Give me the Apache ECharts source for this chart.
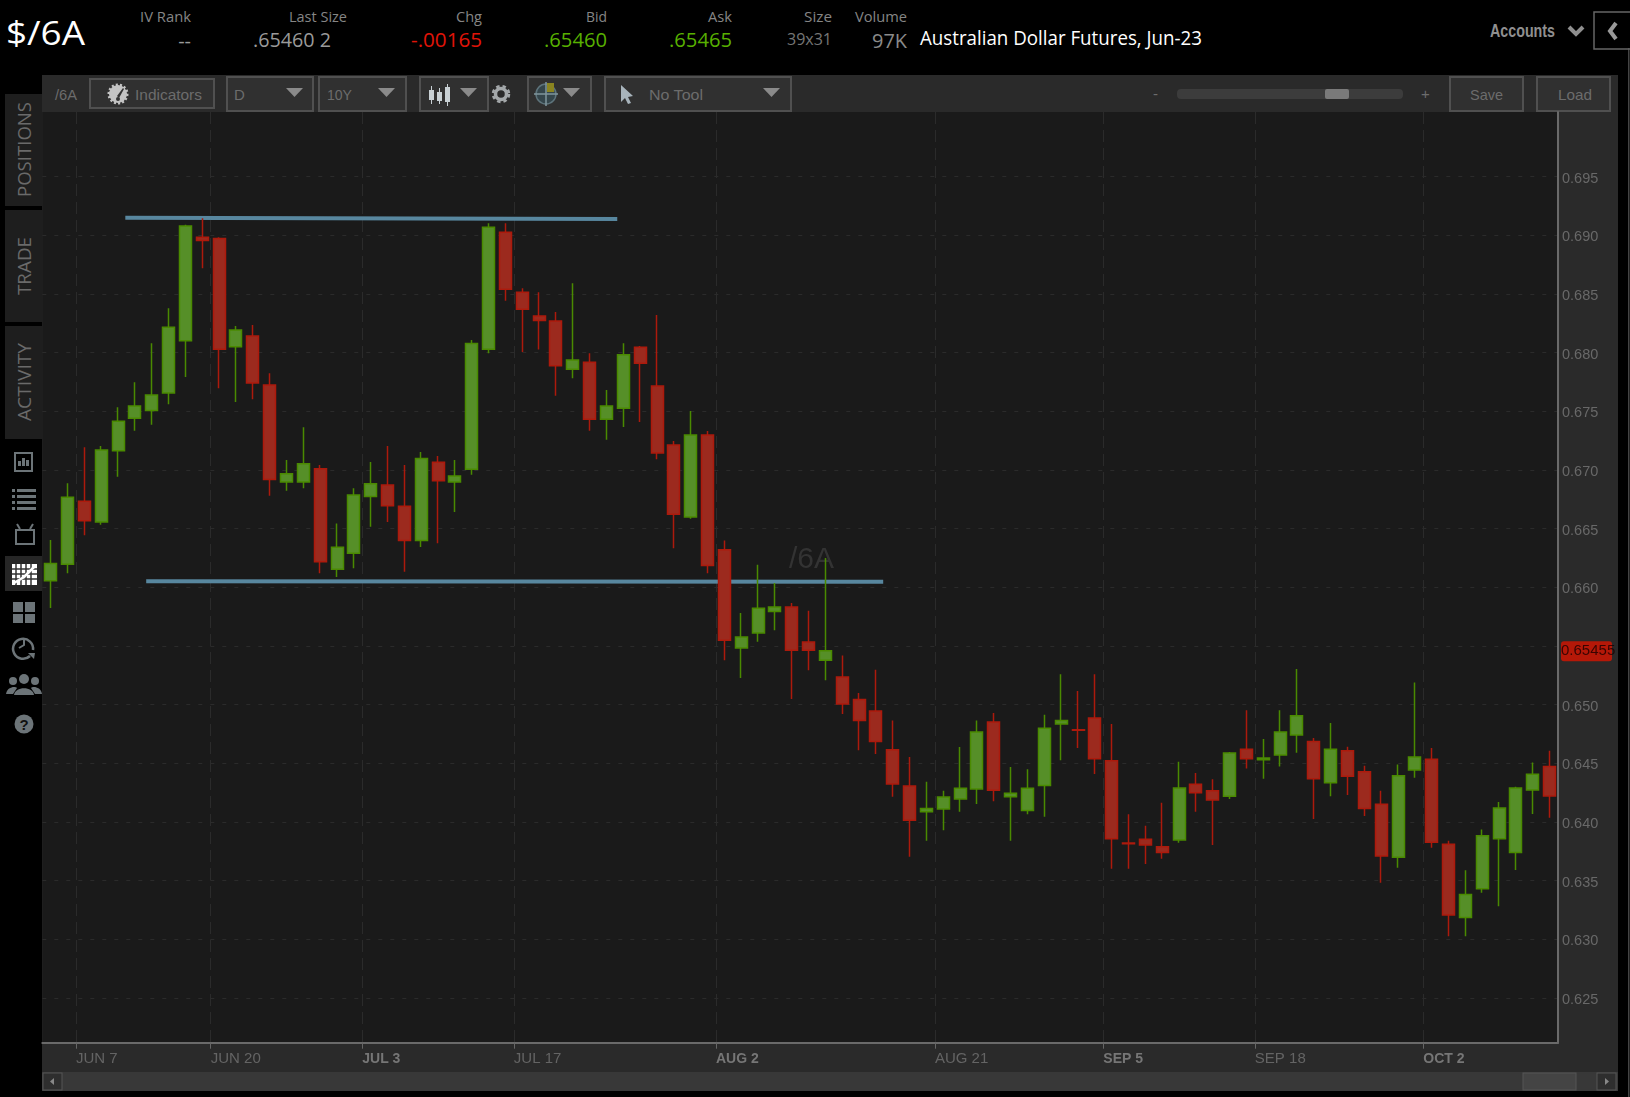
<!DOCTYPE html>
<html>
<head>
<meta charset="utf-8">
<title>/6A</title>
<script src="https://cdn.jsdelivr.net/npm/echarts@6/dist/echarts.min.js"></script>
<style>
  html, body { margin: 0; padding: 0; background: #000; overflow: hidden; }
  #wrap { position: relative; width: 1630px; height: 1097px; }
  #chrome, #chart { position: absolute; left: 0; top: 0; width: 1630px; height: 1097px; }
  text { font-family: "Open Sans", sans-serif; }
  .lbl { font-size: 14px; fill: #858585; text-anchor: end; }
  .val { font-size: 20px; fill: #9a9a9a; text-anchor: end; }
  .tool { font-family: "Liberation Sans", sans-serif; font-size: 15px; fill: #6c6c6c; }
  .tab { font-size: 18px; fill: #6a6a6a; }
  .btn { fill: #303030; stroke: #505050; stroke-width: 2; }
  .arrow { fill: #8a8a8a; }
  .ico { fill: #6c7478; }
  .icoS { fill: none; stroke: #6c7478; stroke-width: 2; }
</style>
</head>
<body>
<div id="wrap">
  <svg id="chrome" width="1630" height="1097" xmlns="http://www.w3.org/2000/svg">
    <!-- panels -->
    <rect x="42" y="75" width="1576" height="1016" fill="#2a2a2a"/>
    <rect x="42" y="1072" width="1576" height="19" fill="#383838"/>
    <rect x="1628" y="48" width="1.5" height="1049" fill="#444"/>

    <!-- quote header -->
    <text x="6" y="45" font-size="33" fill="#fff" textLength="79" lengthAdjust="spacingAndGlyphs">$/6A</text>
    <text class="lbl" x="191" y="22" textLength="51" lengthAdjust="spacingAndGlyphs">IV Rank</text>
    <text class="lbl" x="347" y="22" textLength="58" lengthAdjust="spacingAndGlyphs">Last Size</text>
    <text class="lbl" x="482" y="22" textLength="26" lengthAdjust="spacingAndGlyphs">Chg</text>
    <text class="lbl" x="607" y="22" textLength="21" lengthAdjust="spacingAndGlyphs">Bid</text>
    <text class="lbl" x="732" y="22" textLength="24" lengthAdjust="spacingAndGlyphs">Ask</text>
    <text class="lbl" x="832" y="22" textLength="28" lengthAdjust="spacingAndGlyphs">Size</text>
    <text class="lbl" x="907" y="22" textLength="52" lengthAdjust="spacingAndGlyphs">Volume</text>
    <text class="val" x="191" y="48">--</text>
    <text class="val" x="331" y="47" textLength="78" lengthAdjust="spacingAndGlyphs">.65460 2</text>
    <text class="val" x="482" y="47" style="fill:#e01408" textLength="71" lengthAdjust="spacingAndGlyphs">-.00165</text>
    <text class="val" x="607" y="47" style="fill:#58b000" textLength="63" lengthAdjust="spacingAndGlyphs">.65460</text>
    <text class="val" x="732" y="47" style="fill:#58b000" textLength="63" lengthAdjust="spacingAndGlyphs">.65465</text>
    <text class="val" x="832" y="45" style="font-size:17px;fill:#767676" textLength="45" lengthAdjust="spacingAndGlyphs">39x31</text>
    <text class="val" x="907" y="48" style="fill:#8a8a8a" textLength="35" lengthAdjust="spacingAndGlyphs">97K</text>
    <text x="920" y="45" font-size="20" fill="#fff" textLength="282" lengthAdjust="spacingAndGlyphs">Australian Dollar Futures, Jun-23</text>
    <text x="1490" y="37" font-size="18" font-weight="700" fill="#8f8f8f" style="font-family:'Liberation Sans'" textLength="65" lengthAdjust="spacingAndGlyphs">Accounts</text>
    <path d="M1569 27l7 7 7-7" fill="none" stroke="#8f8f8f" stroke-width="4"/>
    <rect x="1594" y="12" width="40" height="37" fill="none" stroke="#666" stroke-width="1.5"/>
    <path d="M1616 23l-6 8 6 8" fill="none" stroke="#999" stroke-width="4"/>

    <!-- toolbar -->
    <text class="tool" x="55" y="100" textLength="22" lengthAdjust="spacingAndGlyphs">/6A</text>
    <rect class="btn" x="90" y="79" width="124" height="29"/>
    <g transform="translate(118 94)">
      <circle r="9" fill="#c4c4c4"/><circle r="9" fill="none" stroke="#c4c4c4" stroke-width="3" stroke-dasharray="2 2"/>
      <path d="M-1 2l6-8 1 1-5 9z" fill="#333"/><circle cy="5" r="2" fill="#333"/>
    </g>
    <text class="tool" x="135" y="100" textLength="67" lengthAdjust="spacingAndGlyphs">Indicators</text>
    <rect class="btn" x="227" y="77" width="86" height="34"/>
    <text class="tool" x="234" y="100">D</text>
    <path class="arrow" d="M286 88h17l-8.500 9z"/>
    <rect class="btn" x="319" y="77" width="87" height="34"/>
    <text class="tool" x="327" y="100" textLength="25" lengthAdjust="spacingAndGlyphs">10Y</text>
    <path class="arrow" d="M378 88h17l-8.500 9z"/>
    <rect class="btn" x="420" y="77" width="68" height="34"/>
    <g fill="#c8d0d4">
      <rect x="429" y="90" width="5" height="10"/><rect x="431" y="86" width="1" height="18"/>
      <rect x="437" y="92" width="5" height="9"/><rect x="439" y="88" width="1" height="16"/>
      <rect x="445" y="87" width="5" height="15"/><rect x="447" y="84" width="1" height="22"/>
    </g>
    <path class="arrow" d="M460 88h17l-8.500 9z"/>
    <circle cx="501" cy="94" r="5.500" fill="none" stroke="#a4a8aa" stroke-width="3.500"/>
    <circle cx="501" cy="94" r="8" fill="none" stroke="#a4a8aa" stroke-width="2.500" stroke-dasharray="3.500 3"/>
    <rect class="btn" x="528" y="77" width="63" height="34"/>
    <circle cx="546" cy="94" r="10" fill="#34454b" stroke="#5e747c" stroke-width="1.500"/>
    <path d="M534 94h24M546 82v24" stroke="#7f959d" stroke-width="1.500"/>
    <rect x="547" y="83" width="7" height="9" fill="#8a8420"/>
    <path class="arrow" d="M563 88h17l-8.500 9z"/>
    <rect class="btn" x="605" y="77" width="186" height="34"/>
    <path d="M621 85l0 17 4-4 3 6 3-1-3-6 5-1z" fill="#a8b4bc"/>
    <text class="tool" x="649" y="100" textLength="54" lengthAdjust="spacingAndGlyphs">No Tool</text>
    <path class="arrow" d="M763 88h17l-8.500 9z"/>
    <text class="tool" x="1153" y="99">-</text>
    <rect x="1177" y="89" width="226" height="10" rx="4" fill="#3c3c3c"/>
    <rect x="1325" y="89" width="24" height="10" rx="2" fill="#7a7a7a"/>
    <text class="tool" x="1421" y="99">+</text>
    <rect class="btn" x="1450" y="77" width="73" height="34"/>
    <text class="tool" x="1470" y="100" textLength="33" lengthAdjust="spacingAndGlyphs">Save</text>
    <rect class="btn" x="1537" y="77" width="73" height="34"/>
    <text class="tool" x="1558" y="100" textLength="34" lengthAdjust="spacingAndGlyphs">Load</text>

    <!-- scrollbar -->
    <rect x="43" y="1073" width="19" height="17" fill="#2e2e2e" stroke="#555"/>
    <path d="M54 1078v7l-4-3.500z" fill="#888"/>
    <rect x="1523" y="1073" width="53" height="17" fill="#444" stroke="#555"/>
    <rect x="1597" y="1073" width="19" height="17" fill="#2e2e2e" stroke="#555"/>
    <path d="M1605 1078v7l4-3.500z" fill="#888"/>

    <!-- side tabs -->
    <rect x="5" y="94" width="37" height="112" fill="#1e1e1e"/>
    <rect x="5" y="210" width="37" height="112" fill="#1e1e1e"/>
    <rect x="5" y="326" width="37" height="113" fill="#1e1e1e"/>
    <text class="tab" transform="translate(31 197) rotate(-90)" textLength="95" lengthAdjust="spacingAndGlyphs">POSITIONS</text>
    <text class="tab" transform="translate(31 295) rotate(-90)" textLength="58" lengthAdjust="spacingAndGlyphs">TRADE</text>
    <text class="tab" transform="translate(31 421) rotate(-90)" textLength="78" lengthAdjust="spacingAndGlyphs">ACTIVITY</text>

    <!-- side icons -->
    <rect class="icoS" x="15" y="453" width="17" height="18"/>
    <path class="ico" d="M18 461h3v5h-3zM22 458h3v8h-3zM26 460h3v6h-3z"/>
    <path class="ico" d="M12 489h3v3h-3zM12 495h3v3h-3zM12 501h3v3h-3zM12 507h3v3h-3z"/>
    <path class="ico" d="M17 489h19v3h-19zM17 495h19v3h-19zM17 501h19v3h-19zM17 507h19v3h-19z"/>
    <rect class="icoS" x="16" y="530" width="18" height="14"/>
    <path class="icoS" d="M20 529l-3-5M30 529l3-5"/>
    <rect x="5" y="556" width="37" height="35" fill="#262626"/>
    <rect x="12" y="564" width="25" height="21" fill="#fff"/>
    <path d="M16 564v21M21 564v21M26 564v21M31 564v21M12 569h25M12 574h25M12 579h25" stroke="#333" stroke-width="1.500"/>
    <path d="M14 583l10-6 10-10" fill="none" stroke="#fff" stroke-width="2.500"/>
    <path class="ico" d="M13 602h10v10h-10zM25 602h10v10h-10zM13 614h10v9h-10zM25 614h10v9h-10z"/>
    <path class="icoS" style="stroke-width:2.500" d="M33 650a10 10 0 1 0-3 6"/>
    <path class="ico" d="M28 653l7 0-1 6z"/>
    <path class="icoS" d="M24 639v6l-5 3"/>
    <circle class="ico" cx="24" cy="679" r="5"/><path class="ico" d="M14 695c1-9 19-9 20 0z"/>
    <circle class="ico" cx="13" cy="681" r="4"/><path class="ico" d="M6 694c1-7 9-8 11-6l-4 6z"/>
    <circle class="ico" cx="35" cy="681" r="4"/><path class="ico" d="M42 694c-1-7-9-8-11-6l4 6z"/>
    <circle class="ico" cx="24" cy="724" r="9.500"/>
    <text x="24" y="730" font-size="15" font-weight="700" fill="#111" text-anchor="middle" style="font-family:'Liberation Sans'">?</text>
  </svg>
  <div id="chart"></div>
</div>

<script>
// daily bars, Jun 5 - Oct 11
const categories = [
  'JUN 5','JUN 6','JUN 7','JUN 8','JUN 9','JUN 12','JUN 13','JUN 14','JUN 15','JUN 16',
  'JUN 20','JUN 21','JUN 22','JUN 23','JUN 26','JUN 27','JUN 28','JUN 29','JUN 30',
  'JUL 3','JUL 5','JUL 6','JUL 7','JUL 10','JUL 11','JUL 12','JUL 13','JUL 14',
  'JUL 17','JUL 18','JUL 19','JUL 20','JUL 21','JUL 24','JUL 25','JUL 26','JUL 27','JUL 28','JUL 31',
  'AUG 1','AUG 2','AUG 3','AUG 4','AUG 7','AUG 8','AUG 9','AUG 10','AUG 11',
  'AUG 14','AUG 15','AUG 16','AUG 17','AUG 18','AUG 21','AUG 22','AUG 23','AUG 24','AUG 25',
  'AUG 28','AUG 29','AUG 30','AUG 31','SEP 1','SEP 5','SEP 6','SEP 7','SEP 8',
  'SEP 11','SEP 12','SEP 13','SEP 14','SEP 15','SEP 18','SEP 19','SEP 20','SEP 21','SEP 22',
  'SEP 25','SEP 26','SEP 27','SEP 28','SEP 29','OCT 2','OCT 3','OCT 4','OCT 5','OCT 6',
  'OCT 9','OCT 10','OCT 11'
];
const opens = [
  .66057,.66196,.66733,.66557,.67165,.6744,.67506,.67656,.68102,.68983,
  .68972,.68051,.68142,.67724,.66898,.66898,.67011,.66153,.6629,.66773,
  .66872,.6669,.66398,.67065,.66898,.67006,.68028,.69026,.68514,.68312,
  .6827,.67858,.67918,.67432,.67526,.68045,.67716,.67213,.66599,.67298,
  .66321,.65483,.65611,.65793,.65832,.65534,.65378,.65236,.65043,.64946,
  .64616,.64307,.64088,.64111,.64196,.64281,.64852,.64216,.64099,.64312,
  .64835,.64787,.64886,.64523,.63821,.63852,.6379,.63847,.64321,.64267,
  .64219,.64619,.64531,.64571,.64741,.64685,.64335,.64608,.64429,.64151,
  .63699,.64443,.64534,.6381,.63187,.63432,.63858,.63741,.64273,.64472
];
const closes = [
  .66204,.66767,.66568,.6717,.67415,.67545,.67639,.68216,.6908,.68955,
  .68028,.68193,.67741,.6692,.66969,.67054,.66219,.66341,.66787,.66883,
  .66696,.66398,.67097,.66909,.66949,.68077,.69068,.6854,.68369,.68273,
  .67889,.67937,.67432,.67545,.67983,.67909,.67145,.66622,.67298,.66185,
  .65548,.65577,.65821,.65832,.65463,.65463,.6546,.65006,.64866,.64685,
  .64324,.64014,.64116,.64213,.64287,.64767,.6427,.64244,.64287,.64798,
  .64864,.64781,.6454,.63858,.63815,.63804,.63741,.6429,.6425,.64187,
  .64588,.6454,.64545,.64767,.64906,.64369,.64619,.64389,.64114,.6371,
  .64395,.64554,.63827,.63207,.63383,.63883,.64119,.6429,.64406,.64222
];
const lows = [
  .65824,.66119,.66443,.66534,.66943,.67335,.67386,.6756,.67793,.68719,
  .67696,.67579,.67602,.66781,.66824,.66844,.66119,.66088,.66162,.66517,
  .66557,.66133,.66344,.66375,.66642,.6696,.67994,.68443,.68006,.68026,
  .67633,.67781,.67335,.67258,.67366,.67409,.67091,.66332,.66585,.66119,
  .65378,.65227,.65537,.65634,.65048,.65293,.65207,.6492,.64611,.6458,
  .64216,.63704,.63841,.63929,.64088,.64153,.64176,.63841,.64065,.64045,
  .64526,.64631,.64409,.63602,.63602,.63642,.63687,.63824,.64088,.63804,
  .64196,.64455,.64369,.64474,.64591,.64026,.64219,.6423,.64051,.63483,
  .63611,.64378,.63781,.63026,.63026,.63398,.63281,.63591,.64068,.64037
];
const highs = [
  .66403,.66886,.67193,.67204,.67534,.67747,.6808,.68378,.69091,.69145,
  .68983,.68227,.68236,.67824,.67085,.67364,.67043,.66545,.66844,.67068,
  .67204,.67043,.67153,.67119,.67085,.68108,.69102,.69102,.68548,.68514,
  .68347,.68591,.67994,.67682,.6808,.68057,.68321,.67247,.67503,.67332,
  .66398,.65781,.66193,.66037,.65866,.65801,.6625,.65418,.65099,.65298,
  .64864,.64554,.64344,.64267,.64639,.64864,.64929,.64469,.64449,.64915,
  .65259,.65116,.65259,.64835,.64065,.63969,.64165,.64514,.64418,.64364,
  .64597,.64952,.64707,.64952,.65304,.64716,.64844,.64642,.6448,.64267,
  .64491,.65188,.64631,.63841,.63588,.63937,.6417,.64301,.64506,.64608
];

const tickLabels = ['JUN 7', 'JUN 20', 'JUL 3', 'JUL 17', 'AUG 2', 'AUG 21', 'SEP 5', 'SEP 18', 'OCT 2'];
const boldLabels = ['JUL 3', 'AUG 2', 'SEP 5', 'OCT 2'];
const priceTicks = [.625, .63, .635, .64, .645, .65, .655, .66, .665, .67, .675, .68, .685, .69, .695];
// .655 sits behind the last price flag in the platform
const priceLabels = [.625, .63, .635, .64, .645, .65, .66, .665, .67, .675, .68, .685, .69, .695];
const lastPrice = .65455;

// drawn trend lines: [bar position, price]
const upperLine = [[4.93, .6915], [34.14, .69139]];
const lowerLine = [[6.17, .66051], [49.93, .66048]];

const candles = categories.map((c, i) => [opens[i], closes[i], lows[i], highs[i]]);
const tickPositions = tickLabels.map(l => categories.indexOf(l));

const chart = echarts.init(document.getElementById('chart'));
chart.setOption({
  animation: false,
  backgroundColor: 'transparent',
  grid: {
    show: true,
    left: 42.3,
    right: 72,
    top: 112,
    bottom: 54.3,
    backgroundColor: '#1a1a1a',
    borderWidth: 0
  },
  xAxis: [
    { type: 'category', data: categories, show: false },
    {
      // carries ticks at the left edge of each bar slot, same width as the category axis
      type: 'value',
      min: 0,
      max: categories.length,
      position: 'bottom',
      axisLine: { onZero: false, lineStyle: { color: '#6a6a6a', width: 2 } },
      axisTick: { customValues: tickPositions, length: 6, lineStyle: { color: '#666' } },
      splitLine: { show: true, lineStyle: { color: '#2b2b2b', type: [12, 6] } },
      axisLabel: {
        customValues: tickPositions,
        align: 'left',
        margin: 9,
        color: '#646464',
        fontFamily: 'Liberation Sans',
        fontSize: 15,
        formatter: v => {
          const name = categories[v];
          return boldLabels.includes(name) ? '{b|' + name + '}' : name;
        },
        rich: { b: { fontWeight: 'bold', color: '#767676', fontSize: 14, fontFamily: 'Liberation Sans' } }
      }
    }
  ],
  yAxis: {
    type: 'value',
    position: 'right',
    min: .62119,
    max: .70051,
    axisLine: { show: true, onZero: false, lineStyle: { color: '#6a6a6a', width: 2 } },
    axisTick: { show: false, customValues: priceTicks },
    splitLine: { show: true, lineStyle: { color: '#2b2b2b', type: [4, 8] } },
    axisLabel: {
      customValues: priceLabels,
      margin: 4,
      formatter: v => '{t|' + v.toFixed(3) + '}',
      rich: {
        t: { padding: [4, 0, 0, 0], color: '#686868', fontFamily: 'Liberation Sans', fontSize: 14.5 }
      }
    }
  },
  graphic: [{
    type: 'text',
    z: 0,
    left: 789,
    top: 545,
    silent: true,
    style: { text: '/6A', fill: '#333', font: '30px "Liberation Sans"' }
  }],
  series: [
    {
      type: 'line',
      name: 'upper',
      xAxisIndex: 1,
      data: upperLine,
      symbol: 'none',
      z: 1,
      lineStyle: { color: '#58879f', width: 4 }
    },
    {
      type: 'line',
      name: 'lower',
      xAxisIndex: 1,
      data: lowerLine,
      symbol: 'none',
      z: 1,
      lineStyle: { color: '#58879f', width: 4 }
    },
    {
      type: 'candlestick',
      name: '/6A',
      xAxisIndex: 0,
      data: candles,
      barWidth: 12.5,
      z: 2,
      itemStyle: {
        color: '#568f28',
        color0: '#9c2a1e',
        borderColor: '#4a8a00',
        borderColor0: '#ac1a0c',
        borderWidth: 1.5
      }
    },
    {
      // last price flag on the right axis
      type: 'scatter',
      name: 'last',
      xAxisIndex: 1,
      data: [[categories.length, lastPrice]],
      symbolSize: 0,
      clip: false,
      silent: true,
      z: 5,
      label: {
        show: true,
        position: 'right',
        distance: 3,
        formatter: lastPrice.toFixed(5),
        backgroundColor: '#d81400',
        borderRadius: 3,
        color: '#1c0000',
        fontFamily: 'Liberation Sans',
        fontSize: 15,
        width: 51,
        height: 20,
        lineHeight: 20,
        align: 'left',
        overflow: 'none'
      }
    }
  ]
});
</script>
</body>
</html>
